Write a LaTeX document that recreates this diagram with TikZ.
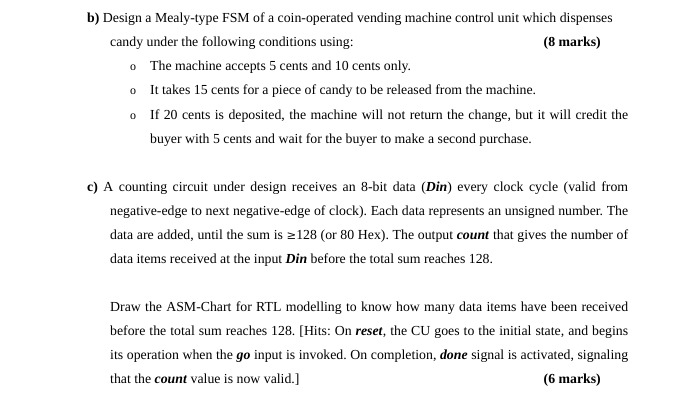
\documentclass[tikz,border=0pt]{standalone}
\usepackage{fontspec}
\setmainfont{Liberation Serif}
\frenchspacing
\begin{document}
\begin{tikzpicture}[x=1pt,y=-1pt,
  ln/.style={anchor=base west,inner sep=0pt,font=\fontsize{13.8}{15}\selectfont},
  bul/.style={anchor=base west,inner sep=0pt,font=\fontsize{12}{14}\selectfont}]
\useasboundingbox (0,0) rectangle (700,401);
\newcommand{\J}[1]{\makebox[518pt][s]{#1}}
\node[ln] (l1) at (87,23) {\textbf{b)} Design a Mealy-type FSM of a coin-operated vending machine control unit which dispenses};
\node[ln] (l2) at (110,47) {candy under the following conditions using:};
\node[ln,anchor=base east] (m1) at (601,47) {\textbf{(8 marks)}};
\node[bul] (b1) at (130,71) {o};
\node[ln] (l3) at (150,71) {The machine accepts 5 cents and 10 cents only.};
\node[bul] (b2) at (130,95) {o};
\node[ln] (l4) at (150,95) {It takes 15 cents for a piece of candy to be released from the machine.};
\node[bul] (b3) at (130,119) {o};
\node[ln] (l5) at (150,119) {\makebox[478pt][s]{If 20 cents is deposited, the machine will not return the change, but it will credit the}};
\node[ln] (l6) at (150,143) {buyer with 5 cents and wait for the buyer to make a second purchase.};
\node[ln] (c1) at (87,191) {\makebox[541pt][s]{\textbf{c)} A counting circuit under design receives an 8-bit data (\textbf{\textit{Din}}) every clock cycle (valid from}};
\node[ln] (c2) at (110,215) {\J{negative-edge to next negative-edge of clock). Each data represents an unsigned number. The}};
\node[ln] (c3) at (110,239) {\J{data are added, until the sum is \fontspec{DejaVu Serif}\fontsize{11.5}{13}\selectfont≥\fontspec{Liberation Serif}\fontsize{13.8}{15}\selectfont128 (or 80 Hex). The output \textbf{\textit{count}} that gives the number of}};
\node[ln] (c4) at (110,263) {data items received at the input \textbf{\textit{Din}} before the total sum reaches 128.};
\node[ln] (d1) at (110,311) {\J{Draw the ASM-Chart for RTL modelling to know how many data items have been received}};
\node[ln] (d2) at (110,335) {\J{before the total sum reaches 128. [Hits: On \textbf{\textit{reset}}, the CU goes to the initial state, and begins}};
\node[ln] (d3) at (110,359) {\J{its operation when the \textbf{\textit{go}} input is invoked. On completion, \textbf{\textit{done}} signal is activated, signaling}};
\node[ln] (d4) at (110,383) {that the \textbf{\textit{count}} value is now valid.]};
\node[ln,anchor=base east] (m2) at (601,383) {\textbf{(6 marks)}};
\end{tikzpicture}
\end{document}
